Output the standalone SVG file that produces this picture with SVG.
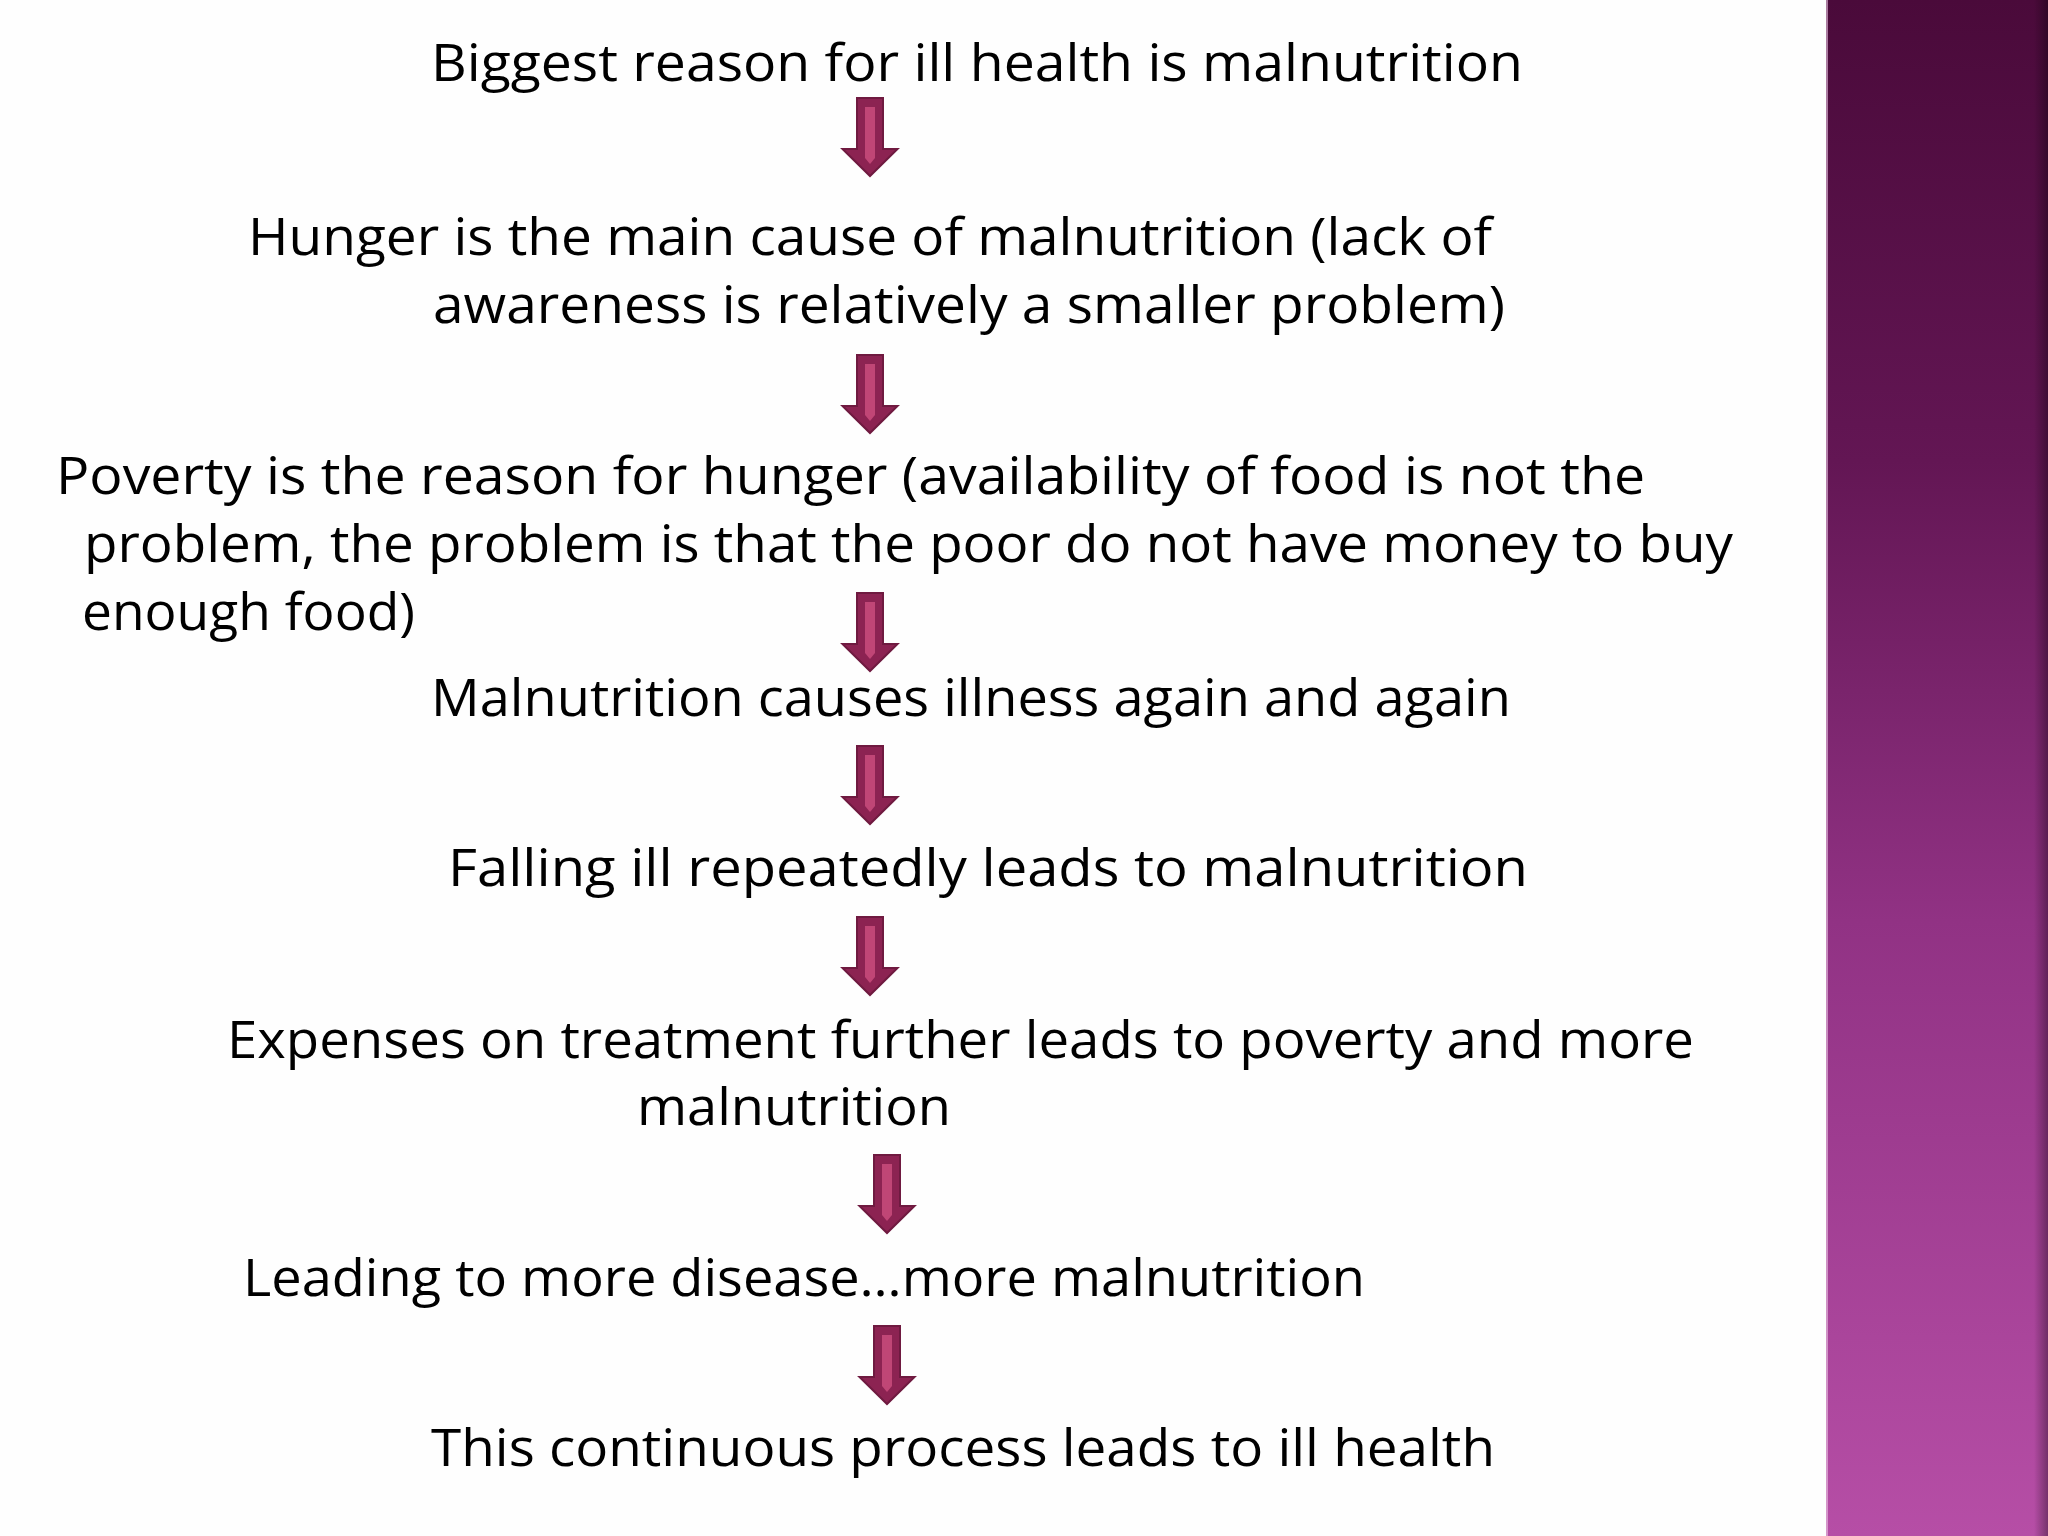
<svg xmlns="http://www.w3.org/2000/svg" width="2048" height="1536" viewBox="0 0 2048 1536">
  <defs>
    <linearGradient id="bar" x1="0" y1="0" x2="0" y2="1">
      <stop offset="0" stop-color="#4a0a3a"/>
      <stop offset="0.3" stop-color="#631654"/>
      <stop offset="0.6" stop-color="#913284"/>
      <stop offset="1" stop-color="#b64ea6"/>
    </linearGradient>
    <linearGradient id="edge" x1="0" y1="0" x2="1" y2="0">
      <stop offset="0" stop-color="#000" stop-opacity="0"/>
      <stop offset="1" stop-color="#000" stop-opacity="0.35"/>
    </linearGradient>
    <g id="arrow">
      <path d="M-13,0 H13 V51 H27.5 L0,78 L-27.5,51 H-13 Z" fill="#8c2352" stroke="#6f1a40" stroke-width="2" stroke-linejoin="miter"/>
      <path d="M-5,9 H5 V60 L0,66 L-5,60 Z" fill="#c04676"/>
    </g>
    <style>
      .t { font-family: "Open Sans", "Liberation Sans", sans-serif; font-size: 51px; fill: #000; }
    </style>
  </defs>
  <rect x="0" y="0" width="2048" height="1536" fill="#fefefe"/>
  <g id="sidebar">
    <rect x="1826" y="0" width="222" height="1536" fill="url(#bar)"/>
    <rect x="2034" y="0" width="14" height="1536" fill="url(#edge)"/>
    <rect x="1826" y="0" width="2" height="1536" fill="#e9c6e2" opacity="0.6"/>
  </g>
  <g id="connectors">
    <use href="#arrow" x="870" y="98"/>
    <use href="#arrow" x="870" y="355"/>
    <use href="#arrow" x="870" y="593"/>
    <use href="#arrow" x="870" y="746"/>
    <use href="#arrow" x="870" y="917"/>
    <use href="#arrow" x="887" y="1155"/>
    <use href="#arrow" x="887" y="1326"/>
  </g>
  <g id="node1">
    <text class="t" x="431" y="81" textLength="1092" lengthAdjust="spacingAndGlyphs">Biggest reason for ill health is malnutrition</text>
  </g>
  <g id="node2">
    <text class="t" x="248" y="255" textLength="1244" lengthAdjust="spacingAndGlyphs">Hunger is the main cause of malnutrition (lack of</text>
    <text class="t" x="433" y="323" textLength="1072" lengthAdjust="spacingAndGlyphs">awareness is relatively a smaller problem)</text>
  </g>
  <g id="node3">
    <text class="t" x="56" y="494" textLength="1589" lengthAdjust="spacingAndGlyphs">Poverty is the reason for hunger (availability of food is not the</text>
    <text class="t" x="84" y="562" textLength="1649" lengthAdjust="spacingAndGlyphs">problem, the problem is that the poor do not have money to buy</text>
    <text class="t" x="82" y="630" textLength="333" lengthAdjust="spacingAndGlyphs">enough food)</text>
  </g>
  <g id="node4">
    <text class="t" x="431" y="716" textLength="1080" lengthAdjust="spacingAndGlyphs">Malnutrition causes illness again and again</text>
  </g>
  <g id="node5">
    <text class="t" x="448" y="886" textLength="1080" lengthAdjust="spacingAndGlyphs">Falling ill repeatedly leads to malnutrition</text>
  </g>
  <g id="node6">
    <text class="t" x="227" y="1058" textLength="1467" lengthAdjust="spacingAndGlyphs">Expenses on treatment further leads to poverty and more</text>
    <text class="t" x="637" y="1125" textLength="314" lengthAdjust="spacingAndGlyphs">malnutrition</text>
  </g>
  <g id="node7">
    <text class="t" x="243" y="1296" textLength="1122" lengthAdjust="spacingAndGlyphs">Leading to more disease…more malnutrition</text>
  </g>
  <g id="node8">
    <text class="t" x="431" y="1466" textLength="1064" lengthAdjust="spacingAndGlyphs">This continuous process leads to ill health</text>
  </g>
</svg>
